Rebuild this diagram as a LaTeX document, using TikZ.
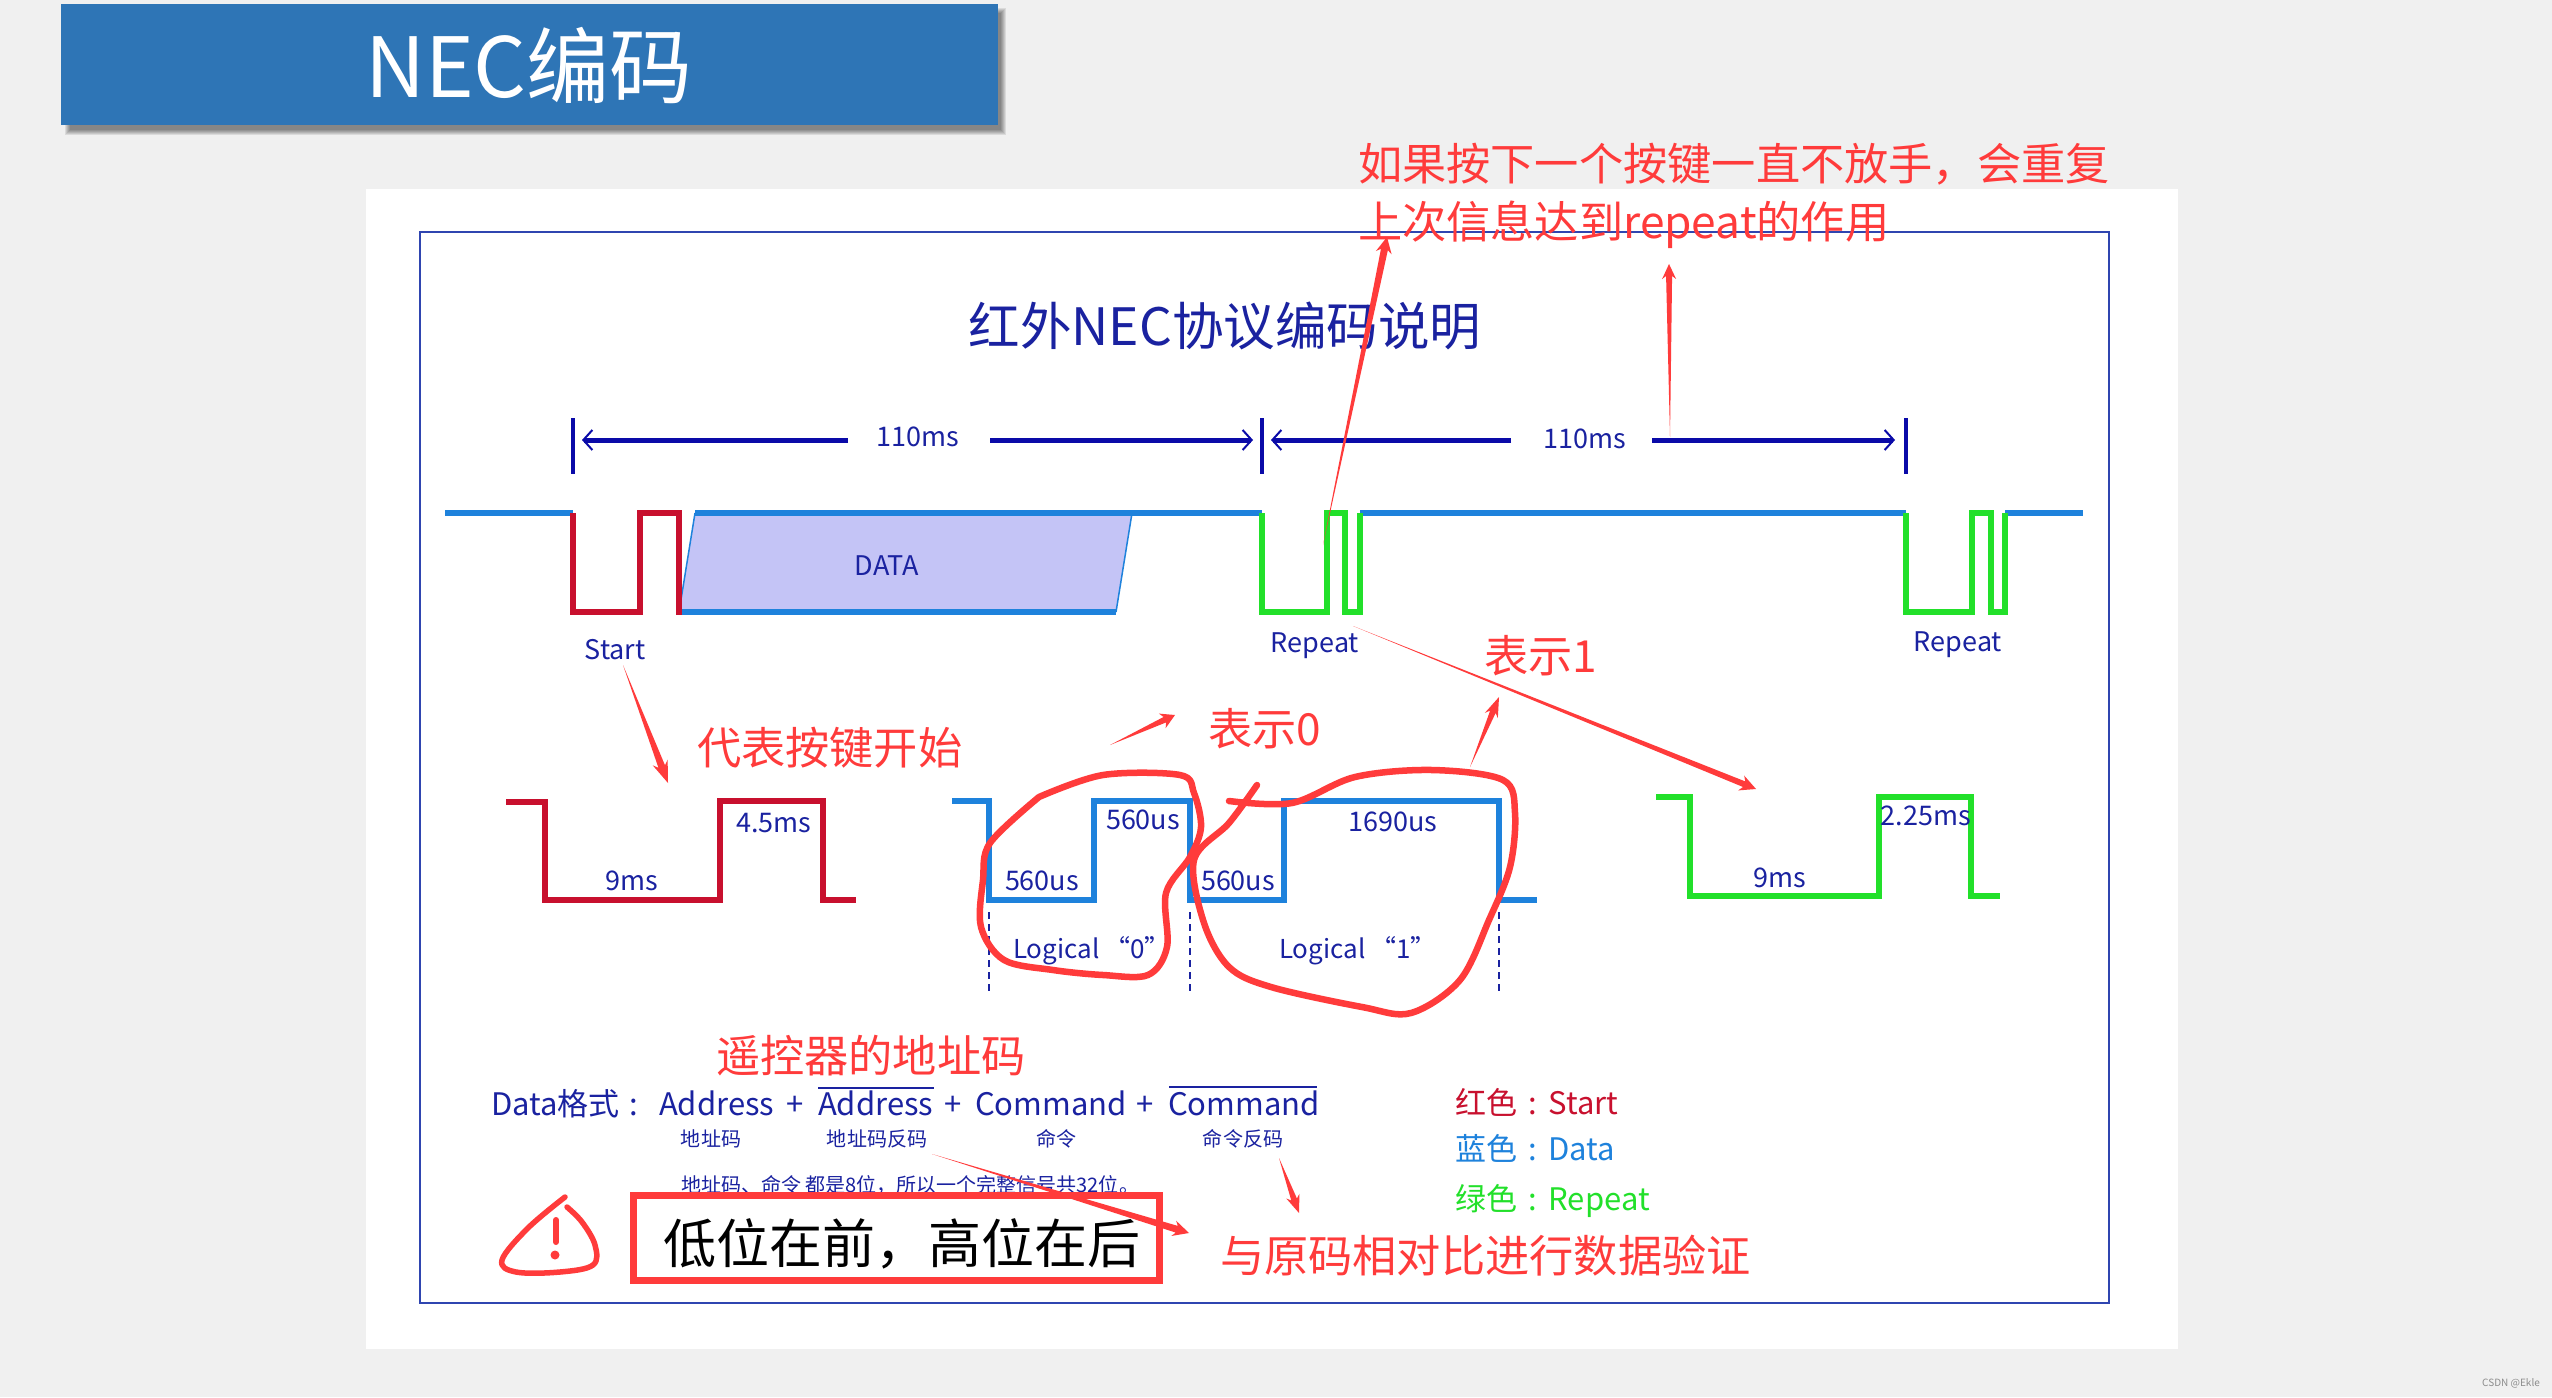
\documentclass[tikz,border=0pt]{standalone}
\usepackage{fontspec}
\setmainfont{Noto Sans CJK SC}
\usetikzlibrary{calc,arrows.meta}
\definecolor{bgG}{HTML}{F0F0F0}
\definecolor{barB}{HTML}{2E75B6}
\definecolor{frameB}{HTML}{2F45B0}
\definecolor{inkB}{HTML}{1A22A0}
\definecolor{dimB}{HTML}{0A0AA8}
\definecolor{sigR}{HTML}{C8102E}
\definecolor{sigB}{HTML}{1E82DC}
\definecolor{sigG}{HTML}{22E02A}
\definecolor{dataF}{HTML}{C4C4F6}
\definecolor{note}{HTML}{FF3B3B}
\newcommand\pxfont[1]{\fontsize{\fpeval{#1*0.2845}}{\fpeval{#1*0.32}}\selectfont}
\newcommand\redarrow[5]{%
  \coordinate (rA) at #1; \coordinate (rT) at #2;
  \coordinate (rB) at ($(rT)!#3!(rA)$);
  \coordinate (rN) at ($(rT)!0.8*#3!(rA)$);
  \fill[note] (rA) -- ($(rN)!#5!90:(rT)$) -- ($(rB)!#4!90:(rT)$) -- (rT)
     -- ($(rB)!#4!-90:(rT)$) -- ($(rN)!#5!-90:(rT)$) -- cycle;}
\tikzset{
  txt/.style={inner sep=0pt,outer sep=0pt},
  lbl/.style={txt,text=inkB,font=\pxfont{27}},
  sub/.style={txt,text=inkB,font=\pxfont{20}},
  fmt/.style={txt,text=inkB,font=\pxfont{31},anchor=base west},
  rednote/.style={txt,text=note,font=\pxfont{44.2},anchor=west},
  legend/.style={txt,font=\pxfont{31},anchor=west},
  dimline/.style={draw=dimB,line width=0.05cm},
  dimarrow/.style={dimline,-{Straight Barb[length=0.09cm,width=0.2cm,line width=0.02cm]}},
  tick/.style={draw=dimB,line width=0.035cm},
  sig/.style={line width=0.055cm,line join=miter},
  guide/.style={draw=inkB,line width=0.02cm,dash pattern=on 0.07cm off 0.05cm},
  over/.style={draw=inkB,line width=0.025cm},
  loopline/.style={draw=note,line width=0.065cm,line cap=round,line join=round},
  softshadow/.style={fill=black,opacity=0.09}
}
\begin{document}
\begin{tikzpicture}[x=0.01cm,y=-0.01cm]
\useasboundingbox (0,0) rectangle (2552,1397);
\fill[bgG] (0,0) rectangle (2552,1397);
% title bar with a soft shadow
\fill[softshadow] (65,8) rectangle (1006,135);
\fill[softshadow] (66,9) rectangle (1005,134);
\fill[softshadow] (67,10) rectangle (1004,133);
\fill[softshadow] (68,11) rectangle (1003,132);
\fill[softshadow] (69,12) rectangle (1002,131);
\fill[softshadow] (70,13) rectangle (1001,130);
\node[txt,fill=barB,minimum width=9.36cm,minimum height=1.21cm,anchor=north west] (bar) at (61,4) {};
\node[txt,text=white,font=\pxfont{83}] (bartext) at (529,66) {NEC编码};
% panel
\fill[white] (366,189) rectangle (2178,1349);
\draw[frameB,line width=0.022cm] (420,232) rectangle (2109,1303);
\node[txt,text=inkB,font=\pxfont{51.5}] (heading) at (1225,326) {红外NEC协议编码说明};
% dimensions
\coordinate (t1a) at (573,418); \coordinate (t1b) at (573,474);
\coordinate (t2a) at (1262,418); \coordinate (t2b) at (1262,474);
\coordinate (t3a) at (1906,418); \coordinate (t3b) at (1906,474);
\draw[tick] (t1a) -- (t1b);
\draw[tick] (t2a) -- (t2b);
\draw[tick] (t3a) -- (t3b);
\node[lbl] (d1) at (918,437) {110ms};
\node[lbl] (d2) at (1585,439) {110ms};
\coordinate (d1l) at (848,440); \coordinate (d1r) at (990,440);
\coordinate (d2l) at (1511,440); \coordinate (d2r) at (1652,440);
\coordinate (e1) at (582,440); \coordinate (e2) at (1253,440);
\coordinate (e3) at (1271,440); \coordinate (e4) at (1895,440);
\draw[dimarrow] (d1l) -- (e1);
\draw[dimarrow] (d1r) -- (e2);
\draw[dimarrow] (d2l) -- (e3);
\draw[dimarrow] (d2r) -- (e4);
% main signal
\fill[dataF] (679,612) -- (695,513) -- (1132,513) -- (1116,612) -- cycle;
\draw[sigB,line width=0.015cm] (679,612) -- (695,513);
\draw[sigB,line width=0.015cm] (1132,513) -- (1116,612);
\draw[sigB,sig] (445,513) -- (573,513);
\draw[sigB,sig] (695,513) -- (1262,513);
\draw[sigB,sig] (679,612) -- (1116,612);
\draw[sigB,sig] (1360,513) -- (1906,513);
\draw[sigB,sig] (2005,513) -- (2083,513);
\draw[sigR,sig] (573,513) -- (573,612) -- (640,612) -- (640,513) -- (679,513) -- (679,615);
\draw[sigG,sig] (1262,513) -- (1262,612) -- (1327,612) -- (1327,513) -- (1345,513) -- (1345,612) -- (1360,612) -- (1360,513);
\draw[sigG,sig] (1906,513) -- (1906,612) -- (1972,612) -- (1972,513) -- (1991,513) -- (1991,612) -- (2005,612) -- (2005,513);
\node[lbl] (data) at (887,566) {DATA};
\node[lbl] (start) at (615,650) {Start};
\node[lbl] (rep1) at (1315,646) {Repeat};
\node[lbl] (rep2) at (1958,645) {Repeat};
% detail: start
\draw[sigR,sig] (506,802) -- (545,802) -- (545,900) -- (720,900) -- (720,801) -- (823,801) -- (823,900) -- (856,900);
\node[lbl] (s45) at (774,823) {4.5ms};
\node[lbl] (s9) at (632,881) {9ms};
% detail: logic
\draw[sigB,sig] (952,801) -- (989,801) -- (989,900) -- (1094,900) -- (1094,801) -- (1190,801) -- (1190,900) -- (1284,900) -- (1284,801) -- (1499,801) -- (1499,900) -- (1537,900);
\draw[guide] (989,912) -- (989,994);
\draw[guide] (1190,912) -- (1190,994);
\draw[guide] (1499,912) -- (1499,994);
\node[lbl] (a560) at (1143,820) {560us};
\node[lbl] (b560) at (1042,881) {560us};
\node[lbl] (c560) at (1238,881) {560us};
\node[lbl] (d1690) at (1393,822) {1690us};
\node[lbl,anchor=west,font=\pxfont{26}] (log0) at (1013,951) {Logical\hspace{0.18em}“0”};
\node[lbl,anchor=west,font=\pxfont{26}] (log1) at (1279,951) {Logical\hspace{0.18em}“1”};
% detail: repeat
\draw[sigG,sig] (1656,797) -- (1690,797) -- (1690,896) -- (1879,896) -- (1879,797) -- (1971,797) -- (1971,896) -- (2000,896);
\node[lbl] (g225) at (1926,816) {2.25ms};
\node[lbl] (g9) at (1780,878) {9ms};
% data format
\node[fmt] (df) at (491,1115) {Data格式\hspace{0.3em}:};
\node[fmt] (f1) at (659,1115) {Address};
\node[fmt] (p1) at (786,1115) {+};
\node[fmt] (f2) at (818,1115) {Address};
\node[fmt] (p2) at (944,1115) {+};
\node[fmt] (f3) at (975,1115) {Command};
\node[fmt] (p3) at (1136,1115) {+};
\node[fmt] (f4) at (1168,1115) {Command};
\coordinate (o1a) at (818,1088); \coordinate (o1b) at (934,1088);
\coordinate (o2a) at (1169,1087); \coordinate (o2b) at (1317,1087);
\draw[over] (o1a) -- (o1b);
\draw[over] (o2a) -- (o2b);
\node[sub] (u1) at (711,1139) {地址码};
\node[sub] (u2) at (877,1139) {地址码反码};
\node[sub] (u3) at (1056,1139) {命令};
\node[sub] (u4) at (1243,1139) {命令反码};
\node[sub,anchor=west] (u5) at (681,1185) {地址码、命令 都是8位，所以一个完整信号共32位。};
% legend
\node[legend,text=sigR] (l1) at (1455,1102) {红色\hspace{0.37em}:\hspace{0.37em}Start};
\node[legend,text=sigB] (l2) at (1455,1148) {蓝色\hspace{0.37em}:\hspace{0.37em}Data};
\node[legend,text=sigG] (l3) at (1455,1201) {绿色\hspace{0.37em}:\hspace{0.37em}Repeat};
% boxed note
\node[txt,draw=note,fill=white,line width=0.07cm,minimum width=5.25cm,minimum height=0.84cm] (boxn) at (896.5,1238) {};
\node[txt,text=black,font=\pxfont{53}] (boxt) at (902,1244) {低位在前，高位在后};
% warning sign
\draw[loopline,line width=0.055cm] plot[smooth,tension=0.6] coordinates {(565,1197) (528,1228) (502,1260) (516,1272) (560,1272) (593,1265) (595,1245) (582,1222) (567,1207)};
\coordinate (w1) at (556,1220); \coordinate (w2) at (556,1242);
\draw[loopline,line width=0.06cm] (w1) -- (w2);
\fill[note] (555,1255) circle (4.5);
% hand loops
\draw[loopline] plot[smooth,tension=0.55] coordinates {(1039,797) (1103,775) (1180,775) (1194,793) (1201,827) (1190,857) (1166,893) (1167,947) (1148,975) (1103,975) (1053,970) (1004,960) (981,927) (983,880) (990,843) (1039,797)};
\draw[loopline] plot[smooth,tension=0.55] coordinates {(1229,801) (1292,803) (1355,777) (1432,770) (1503,780) (1515,813) (1510,867) (1489,920) (1460,980) (1411,1013) (1362,1007) (1271,987) (1229,967) (1204,923) (1194,860) (1229,823) (1257,785)};
% red notes
\node[rednote] (n1) at (1358,164) {如果按下一个按键一直不放手，会重复};
\node[rednote] (n2) at (1358,225) {上次信息达到repeat的作用};
\node[rednote] (n3) at (697,748) {代表按键开始};
\node[rednote] (n4) at (1208,729) {表示0};
\node[rednote] (n5) at (1484,656) {表示1};
\node[rednote] (n6) at (716,1056) {遥控器的地址码};
\node[rednote] (n7) at (1220,1256) {与原码相对比进行数据验证};
% red arrows
\redarrow{(1323,545)}{(1387,237)}{0.16cm}{0.08cm}{0.035cm}
\redarrow{(1670,437)}{(1669,264)}{0.15cm}{0.07cm}{0.03cm}
\redarrow{(1353,626)}{(1756,789)}{0.16cm}{0.08cm}{0.03cm}
\redarrow{(623,665)}{(668,783)}{0.22cm}{0.08cm}{0.035cm}
\redarrow{(1110,745)}{(1175,715)}{0.14cm}{0.08cm}{0.03cm}
\redarrow{(1470,767)}{(1499,697)}{0.2cm}{0.07cm}{0.03cm}
\redarrow{(932,1154)}{(1189,1233)}{0.16cm}{0.08cm}{0.035cm}
\redarrow{(1279,1158)}{(1299,1213)}{0.18cm}{0.07cm}{0.03cm}
% watermark
\node[txt,text=black!45,font=\pxfont{10}] (wm) at (2511,1383) {CSDN @Ekle};
\end{tikzpicture}
\end{document}
